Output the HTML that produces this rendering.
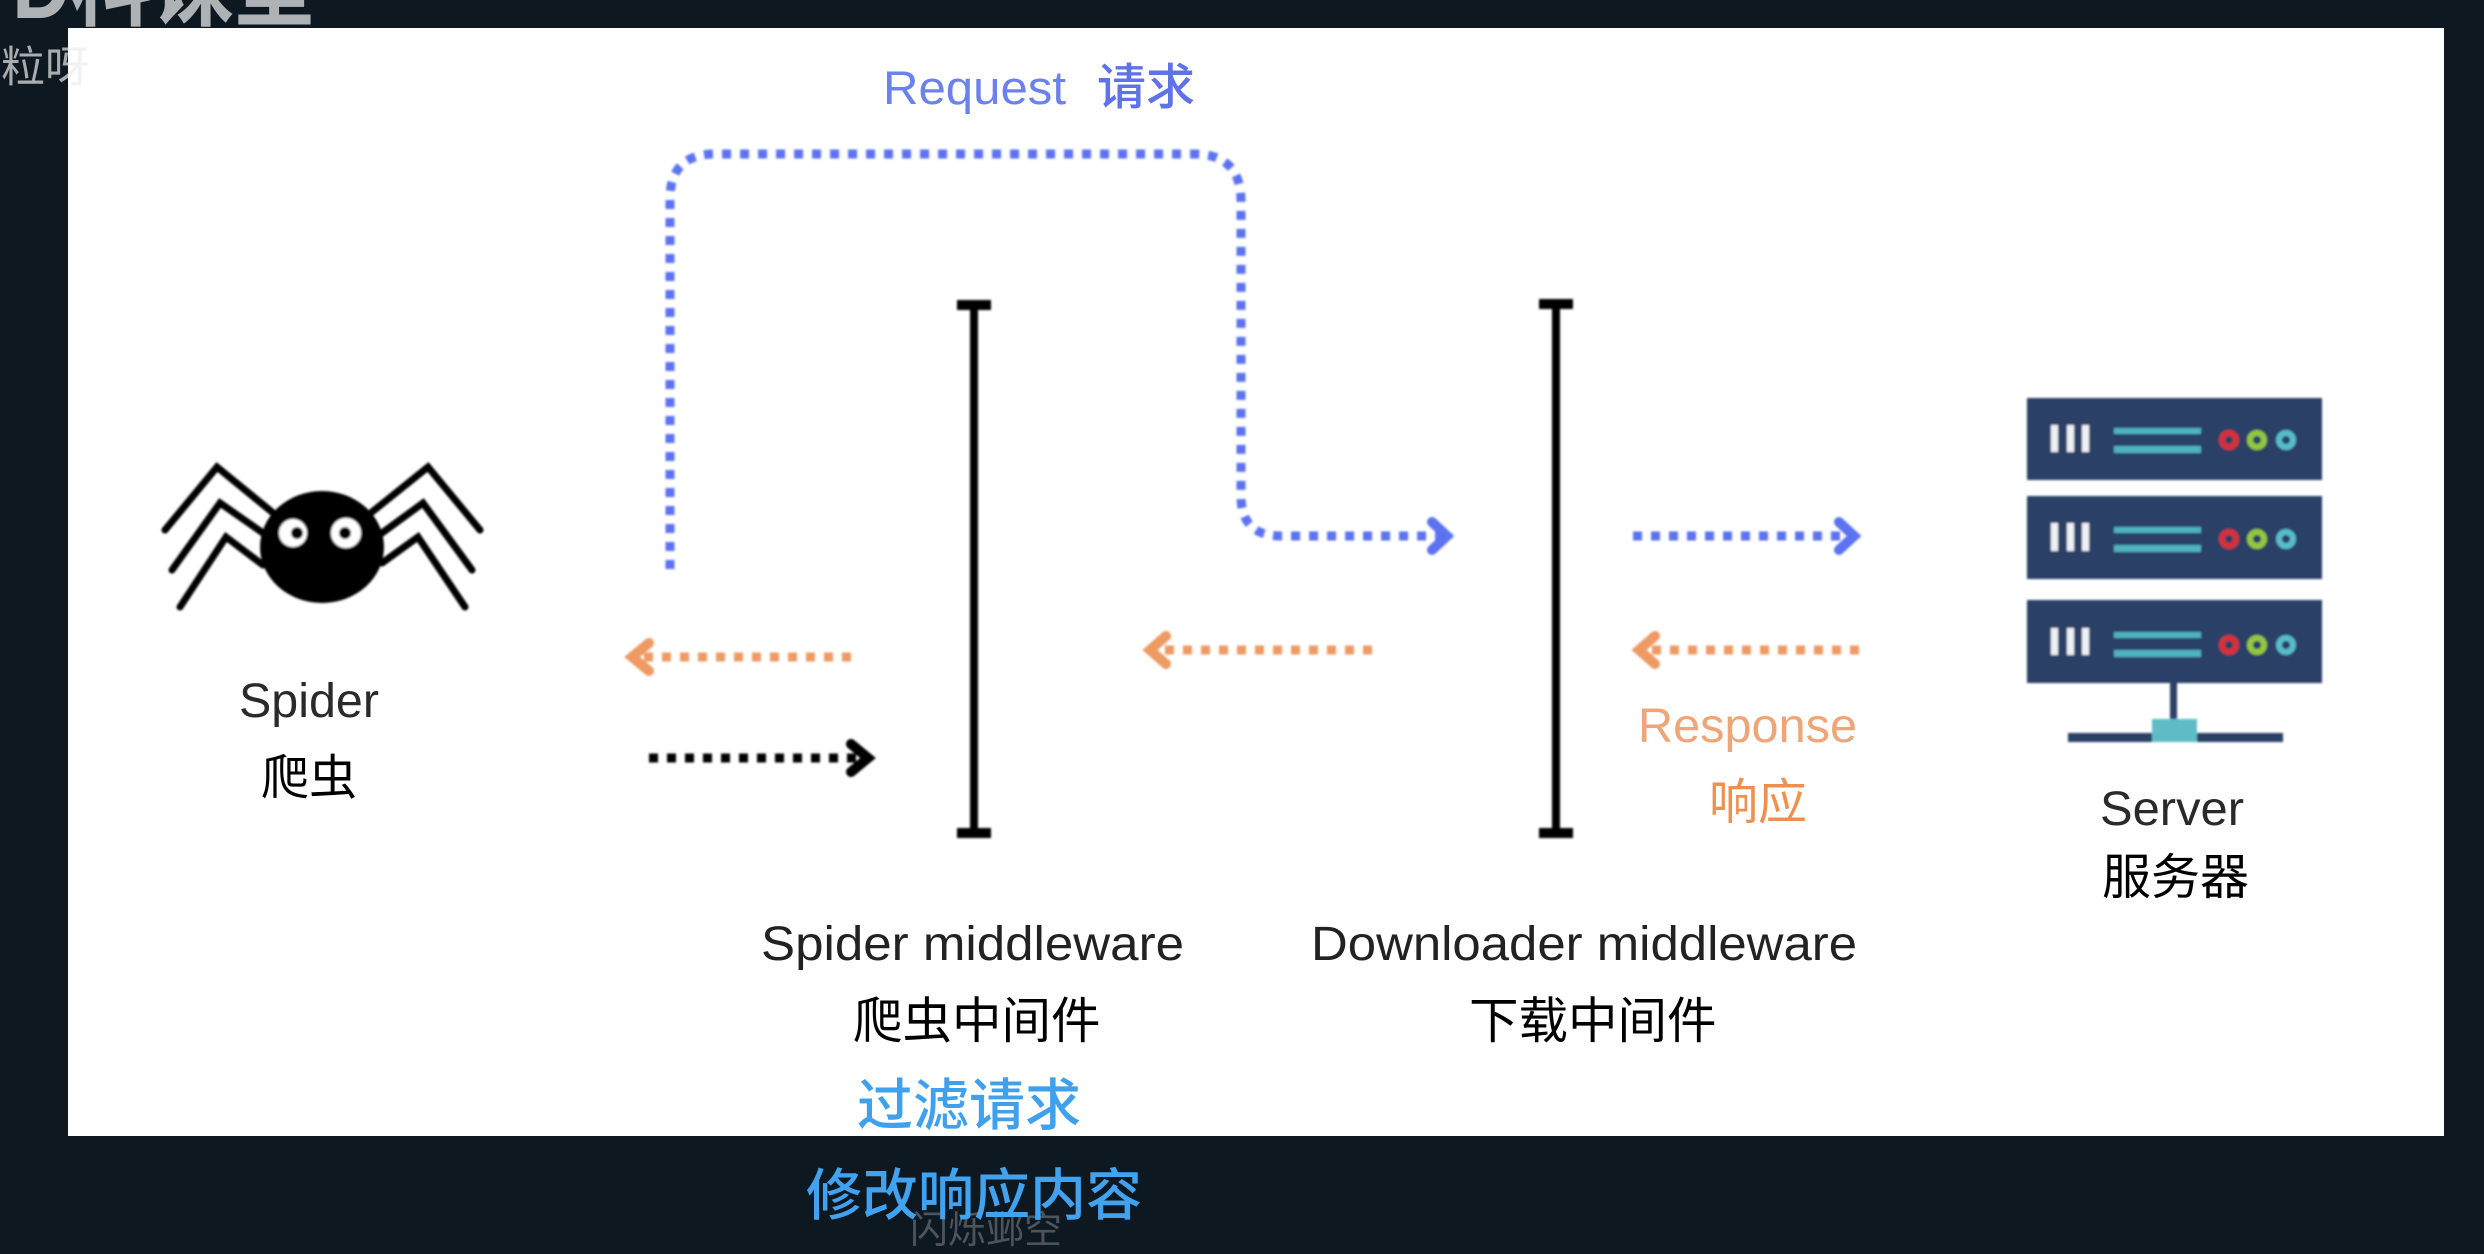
<!DOCTYPE html>
<html><head><meta charset="utf-8"><style>
html,body{margin:0;padding:0;background:#0e1821;width:2484px;height:1254px;overflow:hidden}
svg{display:block}
text{font-family:"Liberation Sans","Noto Sans CJK SC",sans-serif}
</style></head><body>
<svg width="2484" height="1254" viewBox="0 0 2484 1254" xmlns="http://www.w3.org/2000/svg">
<defs>
<filter id="b" x="-5%" y="-5%" width="110%" height="110%"><feGaussianBlur stdDeviation="1"/></filter>
<clipPath id="panel"><rect x="68" y="28" width="2376" height="1108"/></clipPath>
</defs>
<rect width="2484" height="1254" fill="#0e1821"/>
<text x="12" y="18" font-size="96" font-weight="700" fill="#aeb2b5" textLength="303" lengthAdjust="spacingAndGlyphs">D科课堂</text>
<text x="1" y="82" font-size="43" fill="#a9adb0" textLength="88" lengthAdjust="spacingAndGlyphs">粒呀</text>
<rect x="68" y="28" width="2376" height="1108" fill="#fff"/>
<g clip-path="url(#panel)"><text x="1" y="82" font-size="43" fill="#f1f1f1" textLength="88" lengthAdjust="spacingAndGlyphs">粒呀</text></g>

<g filter="url(#b)">
<g fill="none" stroke-width="9" stroke-dasharray="9 9">
<path d="M670 569V199Q670 154 715 154H1194Q1241 154 1241 201V496Q1241 536 1281 536H1440" stroke="#5b72f0"/>
<path d="M1633 536H1845" stroke="#5b72f0"/>
<path d="M1859 650H1648" stroke="#ee9a63"/>
<path d="M1372 650H1160" stroke="#ee9a63"/>
<path d="M851 657H640" stroke="#ee9a63"/>
<path d="M649 758H860" stroke="#000"/>
</g>
<g fill="none" stroke-width="10" stroke-linecap="round" stroke-linejoin="miter">
<path d="M1432 522L1447 536L1432 550" stroke="#5b72f0"/>
<path d="M1839 522L1854 536L1839 550" stroke="#5b72f0"/>
<path d="M1655 636L1639 650L1655 664" stroke="#ee9a63"/>
<path d="M1166 636L1150 650L1166 664" stroke="#ee9a63"/>
<path d="M649 643L632 657L649 671" stroke="#ee9a63"/>
<path d="M851 744L868 758L851 772" stroke="#000"/>
</g>

<g stroke="#000" fill="none">
<path d="M974 305V833M1556 305V833" stroke-width="8"/>
<path d="M957 305H991M1539 304H1573M957 833H991M1539 833H1573" stroke-width="10"/>
</g>

<g fill="none" stroke="#000" stroke-width="7" stroke-linecap="round" stroke-linejoin="miter">
<path d="M165 530L217 467L272 512"/>
<path d="M172 570L220 503L263 533"/>
<path d="M180 607L226 537L263 565"/>
<path d="M480 530L428 467L372 512"/>
<path d="M472 570L423 503L382 533"/>
<path d="M465 607L418 537L382 563"/>
</g>
<ellipse cx="322" cy="547" rx="62" ry="56" fill="#000"/>
<ellipse cx="293" cy="533" rx="14" ry="14" fill="#fff"/>
<ellipse cx="346" cy="533" rx="15" ry="15" fill="#fff"/>
<circle cx="297" cy="533" r="6" fill="#000"/>
<circle cx="345" cy="533" r="6" fill="#000"/>

<g fill="#2b4066">
<rect x="2027" y="398" width="295" height="82"/>
<rect x="2027" y="496" width="295" height="83"/>
<rect x="2027" y="600" width="295" height="83"/>
<rect x="2170" y="683" width="7" height="38"/>
<rect x="2068" y="733" width="215" height="9"/>
</g>
<rect x="2152" y="719" width="45" height="23" fill="#5fbcc6"/>
<g fill="#eef1f5">
<rect x="2051" y="425" width="7" height="27"/><rect x="2067" y="425" width="7" height="27"/><rect x="2082" y="425" width="7" height="27"/>
<rect x="2051" y="523" width="7" height="28"/><rect x="2067" y="523" width="7" height="28"/><rect x="2082" y="523" width="7" height="28"/>
<rect x="2051" y="628" width="7" height="27"/><rect x="2067" y="628" width="7" height="27"/><rect x="2082" y="628" width="7" height="27"/>
</g>
<g fill="#4fb3c0">
<rect x="2114" y="428" width="87" height="6"/><rect x="2114" y="446" width="87" height="7"/>
<rect x="2114" y="527" width="87" height="6"/><rect x="2114" y="545" width="87" height="7"/>
<rect x="2114" y="632" width="87" height="6"/><rect x="2114" y="650" width="87" height="7"/>
</g>
<g fill="#2b4066" stroke-width="6">
<circle cx="2229" cy="440" r="7" stroke="#d5303a"/><circle cx="2257" cy="440" r="7" stroke="#93c83c"/><circle cx="2286" cy="440" r="7" stroke="#59bccb"/>
<circle cx="2229" cy="539" r="7" stroke="#d5303a"/><circle cx="2257" cy="539" r="7" stroke="#93c83c"/><circle cx="2286" cy="539" r="7" stroke="#59bccb"/>
<circle cx="2229" cy="645" r="7" stroke="#d5303a"/><circle cx="2257" cy="645" r="7" stroke="#93c83c"/><circle cx="2286" cy="645" r="7" stroke="#59bccb"/>
</g>
</g>

<text x="883" y="104" font-size="47" fill="#6b82ee" textLength="183" lengthAdjust="spacingAndGlyphs">Request</text>
<text x="1097" y="104" font-size="49" font-weight="500" fill="#5f72e8">请求</text>
<text x="239" y="717" font-size="48" fill="#2a2a2a" textLength="140" lengthAdjust="spacingAndGlyphs">Spider</text>
<text x="261" y="794" font-size="48" fill="#000">爬虫</text>
<text x="761" y="960" font-size="48" fill="#222" textLength="423" lengthAdjust="spacingAndGlyphs">Spider middleware</text>
<text x="853" y="1038" font-size="49.5" fill="#000">爬虫中间件</text>
<text x="1311" y="960" font-size="48" fill="#222" textLength="546" lengthAdjust="spacingAndGlyphs">Downloader middleware</text>
<text x="1469" y="1038" font-size="49.5" fill="#000">下载中间件</text>
<text x="1638" y="742" font-size="48" fill="#f0a577" textLength="219" lengthAdjust="spacingAndGlyphs">Response</text>
<text x="1709" y="819" font-size="49" fill="#ee9050">响应</text>
<text x="2100" y="825" font-size="48" fill="#2a2a2a" textLength="144" lengthAdjust="spacingAndGlyphs">Server</text>
<text x="2102" y="894" font-size="49" fill="#000">服务器</text>
<text x="910" y="1243" font-size="38" fill="#4b535b">闪烁邺空</text>
<text x="857" y="1125" font-size="56" font-weight="500" fill="#3fa0ee">过滤请求</text>
<text x="806" y="1215" font-size="56" font-weight="500" fill="#41a3f0">修改响应内容</text>
</svg>
</body></html>
